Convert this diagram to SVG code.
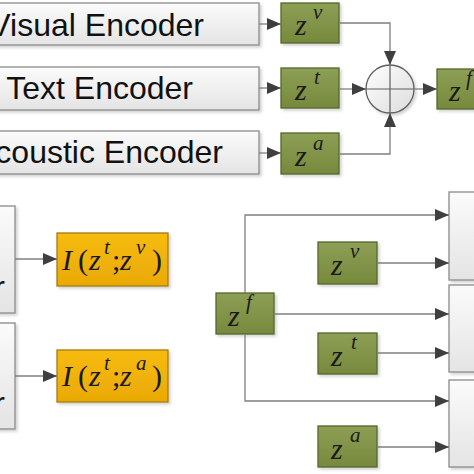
<svg xmlns="http://www.w3.org/2000/svg" width="474" height="474" viewBox="0 0 474 474">
<defs>
  <linearGradient id="gGray" x1="0" y1="0" x2="0" y2="1">
    <stop offset="0" stop-color="#fbfbfb"/>
    <stop offset="1" stop-color="#e4e4e4"/>
  </linearGradient>
  <linearGradient id="gGreen" x1="0" y1="0" x2="0" y2="1">
    <stop offset="0" stop-color="#8d9f55"/>
    <stop offset="1" stop-color="#76893c"/>
  </linearGradient>
  <linearGradient id="gYellow" x1="0" y1="0" x2="0" y2="1">
    <stop offset="0" stop-color="#f7bb12"/>
    <stop offset="1" stop-color="#eaa904"/>
  </linearGradient>
  <linearGradient id="gCirc" x1="0" y1="0" x2="1" y2="1">
    <stop offset="0" stop-color="#ffffff"/>
    <stop offset="1" stop-color="#dcdcdc"/>
  </linearGradient>
  <filter id="sh" x="-20%" y="-20%" width="150%" height="150%">
    <feDropShadow dx="2" dy="2" stdDeviation="1.5" flood-color="#000" flood-opacity="0.18"/>
  </filter>
  <marker id="ah" markerUnits="userSpaceOnUse" markerWidth="15" markerHeight="13" refX="14" refY="6" orient="auto">
    <path d="M0,0 L14,6 L0,12 z" fill="#3f3f3f"/>
  </marker>
</defs>
<style>
  .gray{fill:url(#gGray);stroke:#8a8a8a;stroke-width:1.3;filter:url(#sh)}
  .green{fill:url(#gGreen);stroke:#56682a;stroke-width:1.3;filter:url(#sh)}
  .yellow{fill:url(#gYellow);stroke:#a57c10;stroke-width:1.3;filter:url(#sh)}
  .lbl{font-family:"Liberation Sans",Arial,sans-serif;font-size:32px;fill:#111}
  .m{font-family:"Liberation Serif","Times New Roman",serif;font-style:italic;fill:#1a1a1a}
  .z{font-size:30px}
  .sup{font-size:21px}
  .up{font-style:normal}
  .c{fill:none;stroke:#7f7f7f;stroke-width:1.3}
</style>

<!-- encoders -->
<g id="visual-encoder">
  <rect class="gray" x="-6" y="3" width="265" height="42"/>
  <text class="lbl" x="204" y="36" text-anchor="end">Visual Encoder</text>
</g>
<g id="text-encoder">
  <rect class="gray" x="-6" y="67" width="265" height="43"/>
  <text class="lbl" x="193" y="99" text-anchor="end">Text Encoder</text>
</g>
<g id="acoustic-encoder">
  <rect class="gray" x="-6" y="131" width="265" height="43"/>
  <text class="lbl" x="223" y="163" text-anchor="end">Acoustic Encoder</text>
</g>

<!-- top z boxes -->
<g id="zv-top">
  <rect class="green" x="281" y="3" width="58" height="40"/>
  <text class="m z" x="295" y="35">z</text><text class="m sup" x="313" y="19">v</text>
</g>
<g id="zt-top">
  <rect class="green" x="281" y="68" width="58" height="40"/>
  <text class="m z" x="295" y="100">z</text><text class="m sup" x="314" y="84">t</text>
</g>
<g id="za-top">
  <rect class="green" x="281" y="133" width="58" height="41"/>
  <text class="m z" x="295" y="166">z</text><text class="m sup" x="313" y="150">a</text>
</g>

<g id="fusion">
  <circle cx="390" cy="89" r="24" fill="url(#gCirc)" stroke="#5f5f5f" stroke-width="1.3" filter="url(#sh)"/>
  <line x1="366" y1="89" x2="414" y2="89" stroke="#5f5f5f" stroke-width="1.2"/>
  <line x1="390" y1="65" x2="390" y2="113" stroke="#5f5f5f" stroke-width="1.2"/>
</g>

<g id="zf-top">
  <rect class="green" x="437" y="69" width="45" height="40"/>
  <text class="m z" x="449" y="101">z</text><text class="m sup" x="466" y="85">f</text>
</g>

<!-- bottom left -->
<g id="left-box-1">
  <rect class="gray" x="-6" y="206" width="21" height="107"/>
  <text class="lbl" x="5" y="298" text-anchor="end">r</text>
</g>
<g id="left-box-2">
  <rect class="gray" x="-6" y="323" width="21" height="106"/>
  <text class="lbl" x="5" y="414" text-anchor="end">r</text>
</g>
<g id="mi-tv">
  <rect class="yellow" x="57" y="233" width="111" height="53"/>
  <text class="m z" y="270"><tspan x="62">I</tspan><tspan x="78" class="up">(</tspan><tspan x="89">z</tspan><tspan x="104" y="254" class="sup">t</tspan><tspan x="112" y="270" class="up">;</tspan><tspan x="120">z</tspan><tspan x="136" y="254" class="sup">v</tspan><tspan x="152" y="270" class="up">)</tspan></text>
</g>
<g id="mi-ta">
  <rect class="yellow" x="57" y="350" width="111" height="52"/>
  <text class="m z" y="386"><tspan x="62">I</tspan><tspan x="78" class="up">(</tspan><tspan x="89">z</tspan><tspan x="104" y="370" class="sup">t</tspan><tspan x="112" y="386" class="up">;</tspan><tspan x="120">z</tspan><tspan x="136" y="370" class="sup">a</tspan><tspan x="152" y="386" class="up">)</tspan></text>
</g>

<!-- bottom right -->
<g id="zf-bottom">
  <rect class="green" x="216" y="293" width="58" height="41"/>
  <text class="m z" x="228" y="326">z</text><text class="m sup" x="246" y="309">f</text>
</g>
<g id="zv-bottom">
  <rect class="green" x="318" y="242" width="59" height="42"/>
  <text class="m z" x="331" y="275">z</text><text class="m sup" x="350" y="258">v</text>
</g>
<g id="zt-bottom">
  <rect class="green" x="318" y="333" width="59" height="41"/>
  <text class="m z" x="331" y="366">z</text><text class="m sup" x="351" y="349">t</text>
</g>
<g id="za-bottom">
  <rect class="green" x="318" y="426" width="59" height="41"/>
  <text class="m z" x="331" y="459">z</text><text class="m sup" x="350" y="442">a</text>
</g>
<g id="right-box-1"><rect class="gray" x="449" y="192" width="35" height="88"/></g>
<g id="right-box-2"><rect class="gray" x="449" y="285" width="35" height="87"/></g>
<g id="right-box-3"><rect class="gray" x="449" y="380" width="35" height="87"/></g>

<g id="connectors">
  <line class="c" x1="259" y1="24" x2="281" y2="24" marker-end="url(#ah)"/>
  <line class="c" x1="259" y1="88" x2="281" y2="88" marker-end="url(#ah)"/>
  <line class="c" x1="259" y1="153" x2="281" y2="153" marker-end="url(#ah)"/>
  <polyline class="c" points="339,23 390,23 390,65" marker-end="url(#ah)"/>
  <line class="c" x1="339" y1="89" x2="366" y2="89" marker-end="url(#ah)"/>
  <polyline class="c" points="339,154 390,154 390,113" marker-end="url(#ah)"/>
  <line class="c" x1="414" y1="89" x2="437" y2="89" marker-end="url(#ah)"/>
  <line class="c" x1="15" y1="259" x2="57" y2="259" marker-end="url(#ah)"/>
  <line class="c" x1="15" y1="376" x2="57" y2="376" marker-end="url(#ah)"/>
  <polyline class="c" points="245,293 245,215 449,215" marker-end="url(#ah)"/>
  <line class="c" x1="274" y1="314" x2="449" y2="314" marker-end="url(#ah)"/>
  <polyline class="c" points="245,334 245,401 449,401" marker-end="url(#ah)"/>
  <line class="c" x1="377" y1="263" x2="449" y2="263" marker-end="url(#ah)"/>
  <line class="c" x1="377" y1="353" x2="449" y2="353" marker-end="url(#ah)"/>
  <line class="c" x1="377" y1="447" x2="449" y2="447" marker-end="url(#ah)"/>
</g>
</svg>
